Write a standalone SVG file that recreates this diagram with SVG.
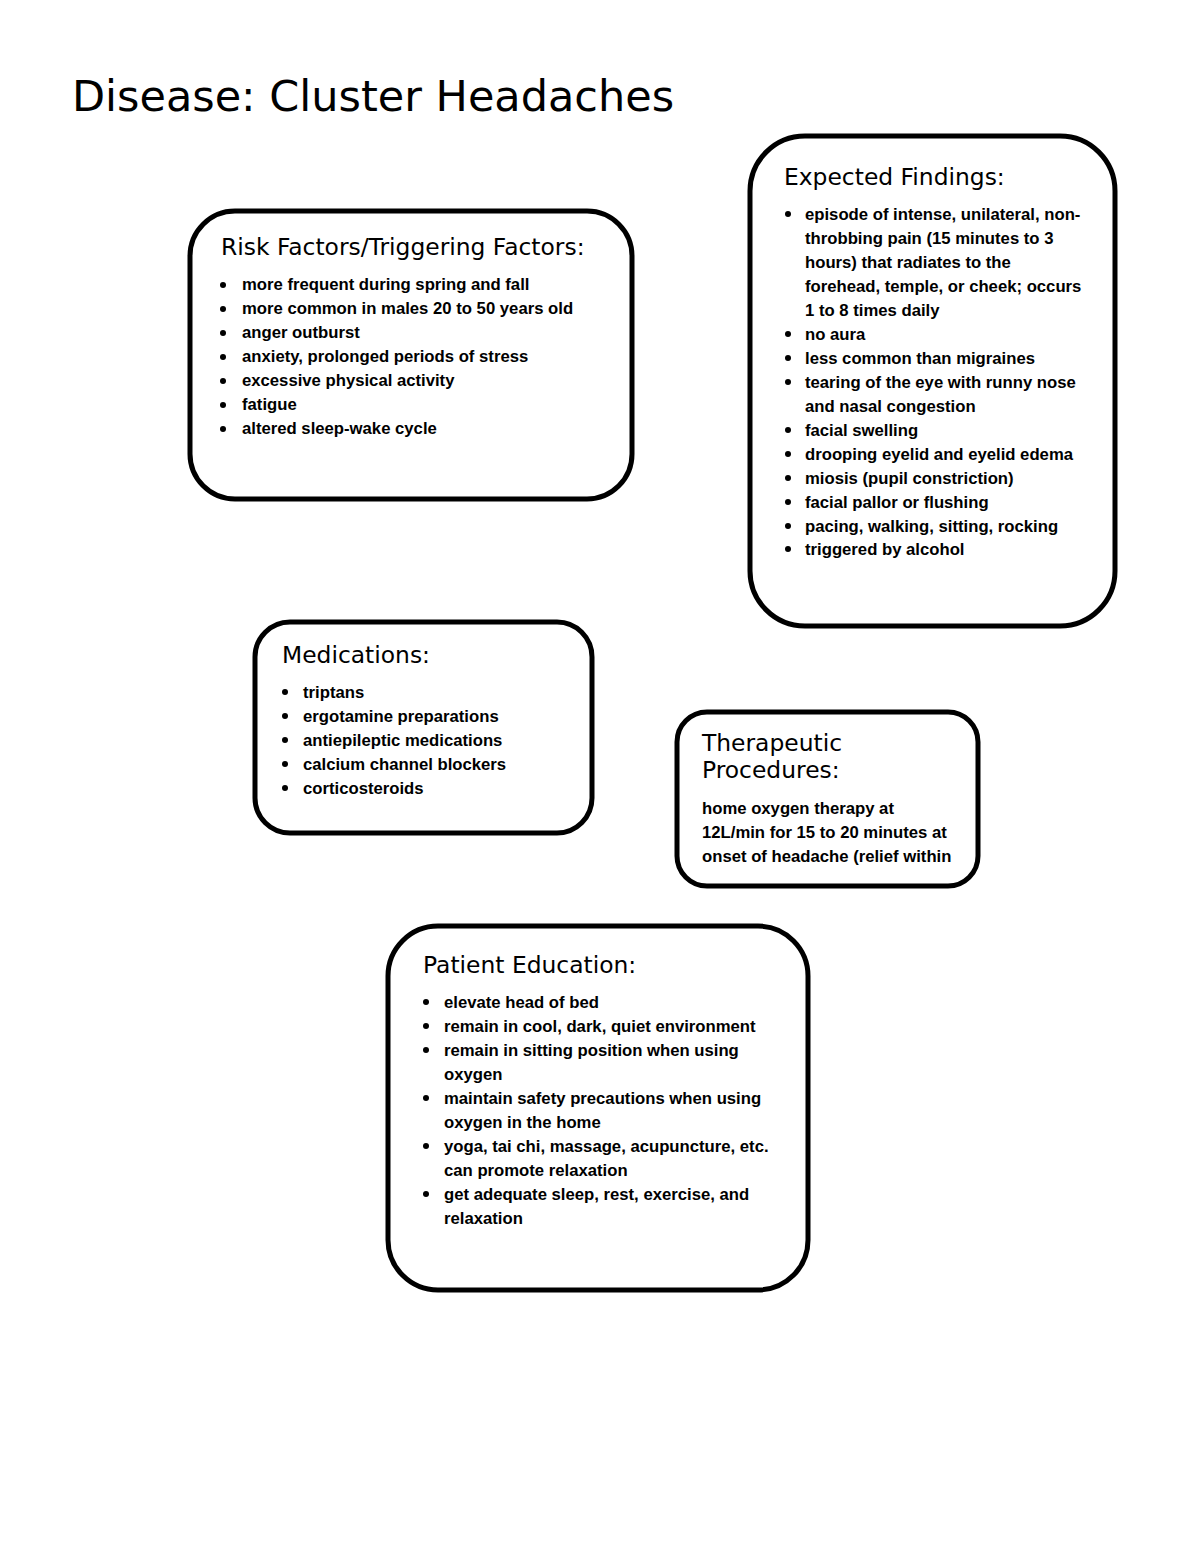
<svg xmlns="http://www.w3.org/2000/svg" width="1200" height="1553" viewBox="0 0 1200 1553">
<style>
.box{fill:#fff;stroke:#000;stroke-width:5}
.title{font-family:"DejaVu Sans",sans-serif;font-size:43px;fill:#000}
.hd{font-family:"DejaVu Sans",sans-serif;font-size:23.4px;fill:#000}
.tx{font-family:"Liberation Sans",Arial,sans-serif;font-size:16.7px;font-weight:bold;fill:#000}
.bl{fill:#000}
</style>
<rect width="1200" height="1553" fill="#fff"/>
<text class="title" x="72" y="111">Disease: Cluster Headaches</text>

<g id="risk">
<rect class="box" x="190" y="211" width="442" height="288" rx="45"/>
<text class="hd" x="221" y="255">Risk Factors/Triggering Factors:</text>
<text class="tx" x="242" y="290">more frequent during spring and fall</text>
<text class="tx" x="242" y="314">more common in males 20 to 50 years old</text>
<text class="tx" x="242" y="338">anger outburst</text>
<text class="tx" x="242" y="362">anxiety, prolonged periods of stress</text>
<text class="tx" x="242" y="386">excessive physical activity</text>
<text class="tx" x="242" y="410">fatigue</text>
<text class="tx" x="242" y="434">altered sleep-wake cycle</text>
<g class="bl"><circle cx="223" cy="285" r="3"/><circle cx="223" cy="309" r="3"/><circle cx="223" cy="333" r="3"/><circle cx="223" cy="357" r="3"/><circle cx="223" cy="381" r="3"/><circle cx="223" cy="405" r="3"/><circle cx="223" cy="429" r="3"/></g>
</g>

<g id="findings">
<rect class="box" x="750" y="136" width="365" height="490" rx="55"/>
<text class="hd" x="784" y="185">Expected Findings:</text>
<text class="tx" x="805" y="220">episode of intense, unilateral, non-</text>
<text class="tx" x="805" y="244">throbbing pain (15 minutes to 3</text>
<text class="tx" x="805" y="268">hours) that radiates to the</text>
<text class="tx" x="805" y="292">forehead, temple, or cheek; occurs</text>
<text class="tx" x="805" y="316">1 to 8 times daily</text>
<text class="tx" x="805" y="340">no aura</text>
<text class="tx" x="805" y="364">less common than migraines</text>
<text class="tx" x="805" y="388">tearing of the eye with runny nose</text>
<text class="tx" x="805" y="412">and nasal congestion</text>
<text class="tx" x="805" y="436">facial swelling</text>
<text class="tx" x="805" y="460">drooping eyelid and eyelid edema</text>
<text class="tx" x="805" y="484">miosis (pupil constriction)</text>
<text class="tx" x="805" y="508">facial pallor or flushing</text>
<text class="tx" x="805" y="532">pacing, walking, sitting, rocking</text>
<text class="tx" x="805" y="555">triggered by alcohol</text>
<g class="bl"><circle cx="788" cy="214" r="3"/><circle cx="788" cy="334" r="3"/><circle cx="788" cy="358" r="3"/><circle cx="788" cy="382" r="3"/><circle cx="788" cy="430" r="3"/><circle cx="788" cy="454" r="3"/><circle cx="788" cy="478" r="3"/><circle cx="788" cy="502" r="3"/><circle cx="788" cy="526" r="3"/><circle cx="788" cy="549" r="3"/></g>
</g>

<g id="medications">
<rect class="box" x="255" y="622" width="337" height="211" rx="35"/>
<text class="hd" x="282" y="663">Medications:</text>
<text class="tx" x="303" y="698">triptans</text>
<text class="tx" x="303" y="722">ergotamine preparations</text>
<text class="tx" x="303" y="746">antiepileptic medications</text>
<text class="tx" x="303" y="770">calcium channel blockers</text>
<text class="tx" x="303" y="794">corticosteroids</text>
<g class="bl"><circle cx="285" cy="692" r="3"/><circle cx="285" cy="716" r="3"/><circle cx="285" cy="740" r="3"/><circle cx="285" cy="764" r="3"/><circle cx="285" cy="788" r="3"/></g>
</g>

<g id="therapeutic">
<rect class="box" x="677" y="712" width="301" height="174" rx="30"/>
<text class="hd" x="702" y="751">Therapeutic</text>
<text class="hd" x="702" y="778">Procedures:</text>
<text class="tx" x="702" y="814">home oxygen therapy at</text>
<text class="tx" x="702" y="838">12L/min for 15 to 20 minutes at</text>
<text class="tx" x="702" y="862">onset of headache (relief within</text>
</g>

<g id="education">
<rect class="box" x="388" y="926" width="420" height="364" rx="50"/>
<text class="hd" x="423" y="973">Patient Education:</text>
<text class="tx" x="444" y="1008">elevate head of bed</text>
<text class="tx" x="444" y="1032">remain in cool, dark, quiet environment</text>
<text class="tx" x="444" y="1056">remain in sitting position when using</text>
<text class="tx" x="444" y="1080">oxygen</text>
<text class="tx" x="444" y="1104">maintain safety precautions when using</text>
<text class="tx" x="444" y="1128">oxygen in the home</text>
<text class="tx" x="444" y="1152">yoga, tai chi, massage, acupuncture, etc.</text>
<text class="tx" x="444" y="1176">can promote relaxation</text>
<text class="tx" x="444" y="1200">get adequate sleep, rest, exercise, and</text>
<text class="tx" x="444" y="1224">relaxation</text>
<g class="bl"><circle cx="426" cy="1002" r="3"/><circle cx="426" cy="1026" r="3"/><circle cx="426" cy="1050" r="3"/><circle cx="426" cy="1098" r="3"/><circle cx="426" cy="1146" r="3"/><circle cx="426" cy="1194" r="3"/></g>
</g>

<g id="connectors"></g>
</svg>
